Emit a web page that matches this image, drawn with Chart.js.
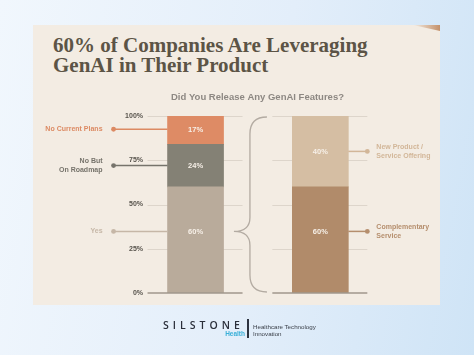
<!DOCTYPE html>
<html><head><meta charset="utf-8">
<script src="https://cdn.jsdelivr.net/npm/chart.js@4.4.1/dist/chart.umd.min.js"></script>
<style>
html,body{margin:0;padding:0;}
body{width:474px;height:355px;overflow:hidden;position:relative;background:linear-gradient(100deg,#f1f7fd 0%,#e3eefa 55%,#cfe4f6 100%);font-family:"Liberation Sans",Arial,sans-serif;}
#panel{position:absolute;left:33px;top:25px;width:407px;height:280px;background:#f3ece3;}
#wedge{position:absolute;left:413px;top:25px;width:27px;height:6px;background:linear-gradient(90deg,rgba(200,150,110,0),#c4916a);clip-path:polygon(0 0,100% 0,100% 100%);}
#title{position:absolute;left:53px;top:35px;font:bold 21px "Liberation Serif",serif;line-height:20px;color:#5c5446;white-space:nowrap;}
#wrap{position:absolute;left:0;top:0;width:474px;height:355px;}
#sil{position:absolute;left:163px;top:319px;font:600 10.5px "Open Sans","Liberation Sans",sans-serif;letter-spacing:4px;color:#2b2f3a;line-height:12px;white-space:nowrap;}
#health{position:absolute;left:205px;top:330px;width:40px;text-align:right;font:bold 6.5px "Liberation Sans",sans-serif;color:#3ab0d8;line-height:8px;}
#vbar{position:absolute;left:247px;top:319px;width:1.5px;height:19px;background:#2d3340;}
#tag{position:absolute;left:253px;top:323px;font:6.2px "Liberation Sans",sans-serif;line-height:7px;color:#3b404a;white-space:nowrap;}
</style></head>
<body>
<div id="panel"></div>
<div id="wedge"></div>
<div id="title">60% of Companies Are Leveraging<br>GenAI in Their Product</div>
<div id="wrap"><canvas id="c" width="474" height="355"></canvas></div>
<div id="sil">SILSTONE</div>
<div id="health">Health</div>
<div id="vbar"></div>
<div id="tag">Healthcare Technology<br>Innovation</div>
<script>
const leftCategories = ['Yes', 'No But\nOn Roadmap', 'No Current Plans'];
const leftValues = [60, 24, 17];
const rightCategories = ['Complementary\nService', 'New Product /\nService Offering'];
const rightValues = [60, 40];
const yTickValues = [0, 25, 50, 75, 100];
const yTickLabels = ['0%', '25%', '50%', '75%', '100%'];
const chartSubtitle = 'Did You Release Any GenAI Features?';

const leftColors = ['#b9ab9b', '#848175', '#de8b65'];
const leftLabelColors = ['#c6b7a7', '#76736b', '#dc8a63'];
const rightColors = ['#b18b6a', '#d5bea3'];
const rightLabelColors = ['#b58e6d', '#d2b698'];
const FONT = '"Liberation Sans", Arial, sans-serif';

const datasets = [];
leftCategories.forEach((c, i) => datasets.push({
  label: c, data: [{x: 0, y: leftValues[i]}], backgroundColor: leftColors[i],
  side: 'left', lblColor: leftLabelColors[i], bottom: i === 0,
  barThickness: 56, stack: 's', clip: 0
}));
rightCategories.forEach((c, i) => datasets.push({
  label: c, data: [{x: 1, y: rightValues[i]}], backgroundColor: rightColors[i],
  side: 'right', lblColor: rightLabelColors[i], bottom: i === 0,
  barThickness: 56, stack: 's', clip: 0
}));

function anchorY(el, isBottom) {
  return isBottom ? el.base + (el.y - el.base) * 0.58 : (el.y + el.base) / 2;
}

const decor = {
  id: 'decor',
  beforeDatasetsDraw(chart) {
    const {ctx, scales: {y}} = chart;
    const lb = chart.getDatasetMeta(0).data[0];
    const rb = chart.getDatasetMeta(leftValues.length).data[0];
    ctx.save();
    ctx.strokeStyle = '#ddd5cb';
    ctx.lineWidth = 1;
    yTickValues.forEach(v => {
      if (v === 0) return;
      const py = Math.round(y.getPixelForValue(v)) + 0.5;
      [lb, rb].forEach(b => {
        ctx.beginPath();
        ctx.moveTo(b.x - b.width / 2 - 20, py);
        ctx.lineTo(b.x + b.width / 2 + 19, py);
        ctx.stroke();
      });
    });
    ctx.restore();
  },
  afterDatasetsDraw(chart) {
    const {ctx, scales: {y}, chartArea} = chart;
    const lb = chart.getDatasetMeta(0).data[0];
    const rb = chart.getDatasetMeta(leftValues.length).data[0];
    ctx.save();
    const p0 = y.getPixelForValue(0);
    ctx.strokeStyle = '#a0978d';
    ctx.lineWidth = 1.5;
    [lb, rb].forEach(b => {
      ctx.beginPath();
      ctx.moveTo(b.x - b.width / 2 - 20, p0);
      ctx.lineTo(b.x + b.width / 2 + 19, p0);
      ctx.stroke();
    });
    ctx.fillStyle = '#8d8883';
    ctx.font = 'bold 9.5px ' + FONT;
    ctx.textAlign = 'center';
    ctx.textBaseline = 'middle';
    ctx.fillText(chartSubtitle, (chartArea.left + chartArea.right) / 2, chartArea.top - 19);

    let yesY = null;
    chart.data.datasets.forEach((ds, i) => {
      const el = chart.getDatasetMeta(i).data[0];
      const ay = anchorY(el, ds.bottom);
      if (ds.side === 'left' && ds.bottom) yesY = ay;
      ctx.fillStyle = '#f7f0e8';
      ctx.font = 'bold 7.5px ' + FONT;
      ctx.textAlign = 'center';
      ctx.textBaseline = 'middle';
      ctx.fillText(ds.data[0].y + '%', el.x, ay + 0.5);
      const left = ds.side === 'left';
      const start = left ? el.x - el.width / 2 : el.x + el.width / 2;
      const dotX = left ? start - 54 : start + 19;
      ctx.strokeStyle = ds.lblColor;
      ctx.fillStyle = ds.lblColor;
      ctx.lineWidth = 1.5;
      ctx.beginPath();
      ctx.moveTo(start, ay);
      ctx.lineTo(dotX, ay);
      ctx.stroke();
      ctx.beginPath();
      ctx.arc(dotX, ay, 2.4, 0, Math.PI * 2);
      ctx.fill();
      const lines = ds.label.split('\n');
      ctx.font = 'bold 7px ' + FONT;
      ctx.textAlign = left ? 'right' : 'left';
      const tx = left ? dotX - 11 : dotX + 9;
      const lh = 8.5;
      lines.forEach((ln, k) => {
        ctx.fillText(ln, tx, ay + (k - (lines.length - 1) / 2) * lh);
      });
    });

    const mid = ((lb.x + lb.width / 2) + (rb.x - rb.width / 2)) / 2;
    const top = y.getPixelForValue(100) + 1;
    const bot = p0 - 1;
    const vx = mid - 8, ex = mid + 9, tx = mid - 24;
    ctx.strokeStyle = '#b3aba2';
    ctx.lineWidth = 1.3;
    ctx.beginPath();
    ctx.moveTo(ex, top);
    ctx.quadraticCurveTo(vx, top, vx, top + 17);
    ctx.lineTo(vx, yesY - 14);
    ctx.quadraticCurveTo(vx, yesY, tx, yesY);
    ctx.quadraticCurveTo(vx, yesY, vx, yesY + 14);
    ctx.lineTo(vx, bot - 17);
    ctx.quadraticCurveTo(vx, bot, ex, bot);
    ctx.stroke();
    ctx.restore();
  }
};

new Chart(document.getElementById('c'), {
  type: 'bar',
  data: {datasets},
  options: {
    responsive: false,
    animation: false,
    devicePixelRatio: 1,
    layout: {padding: {top: 116, bottom: 62, left: 118, right: 107}},
    plugins: {legend: {display: false}, tooltip: {enabled: false}},
    scales: {
      x: {type: 'linear', min: -0.381, max: 1.374, offset: false, display: false, stacked: true, grid: {offset: false}},
      y: {
        min: 0, max: 100, stacked: true,
        grid: {display: false, drawTicks: false},
        border: {display: false},
        ticks: {
          stepSize: 25, padding: 5, color: '#57534c',
          font: {size: 7, weight: 'bold', family: FONT},
          callback: v => { const i = yTickValues.indexOf(v); return i >= 0 ? yTickLabels[i] : ''; }
        },
        afterFit(s) { s.width = 30; }
      }
    }
  },
  plugins: [decor]
});
</script>
</body></html>
